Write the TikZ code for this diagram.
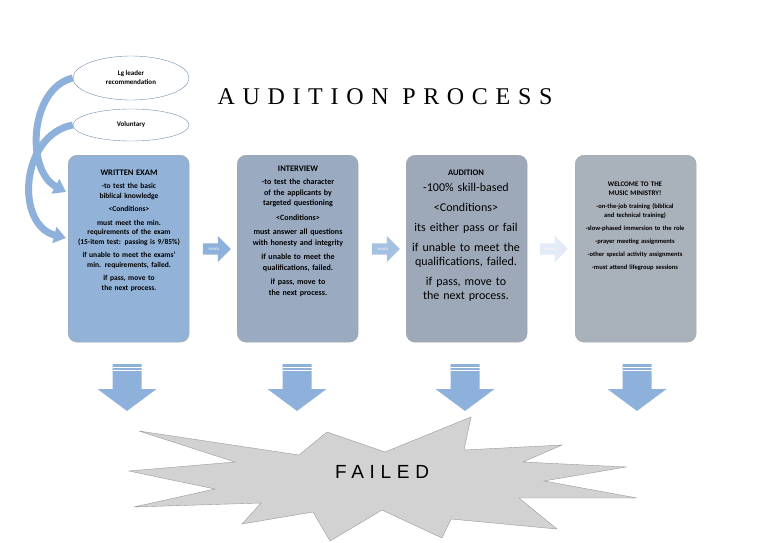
\documentclass[tikz,border=0pt]{standalone}
\usepackage{fontspec}
\setmainfont{Carlito}
\newfontfamily\titlefont[LetterSpace=32]{Liberation Serif}
\newfontfamily\failfont[LetterSpace=30]{Liberation Sans}
\usetikzlibrary{shapes.geometric,shapes.arrows,arrows.meta}
\definecolor{bA}{HTML}{93B2D7}
\definecolor{bB}{HTML}{99AAC1}
\definecolor{bC}{HTML}{9DA9B8}
\definecolor{bD}{HTML}{A9B1BA}
\definecolor{arr}{HTML}{8EB1DB}
\hyphenpenalty=10000
\exhyphenpenalty=10000
\begin{document}
\begin{tikzpicture}[x=1pt,y=-1pt,
 box/.style={draw=gray!70,rounded corners=9pt,minimum width=121pt,minimum height=187pt,anchor=north west},
 txt/.style={align=center,text width=108pt,font=\bfseries\fontsize{7.5}{9.5}\selectfont,anchor=north},
 pass/.style={single arrow,fill=arr,minimum height=28pt,minimum width=26pt,single arrow head extend=3pt,inner sep=1pt,font=\fontsize{3.5}{4}\selectfont,text=white},
 ell/.style={ellipse,draw=arr!80!black,minimum width=116pt,font=\bfseries\fontsize{7}{9}\selectfont,align=center},
 curve/.style={draw=arr,line width=7pt,-{Triangle[width=16pt,length=12pt]}}]
\useasboundingbox (0,0) rectangle (768,543);
\fill[white] (0,0) rectangle (768,543);
\node[font=\titlefont\fontsize{24}{27}\selectfont] (title) at (385,97) {AUDITION PROCESS};
\node[ell,minimum height=44pt] (lg) at (131,78) {Lg leader\\recommendation};
\node[ell,minimum height=32pt] (vol) at (131,125) {Voluntary};
\node[box,fill=bA] (b1) at (68,155) {};
\node[box,fill=bB] (b2) at (237,155) {};
\node[box,fill=bC] (b3) at (406,155) {};
\node[box,fill=bD] (b4) at (575,155) {};
\coordinate (e1) at (66,192);
\coordinate (e2) at (66,238);
\draw[curve] (lg.west) .. controls (30,88) and (25,170) .. (e1);
\draw[curve] (vol.west) .. controls (20,135) and (15,225) .. (e2);
\node[txt] (t1) at (129,166) {{\fontsize{8.5}{10}\selectfont WRITTEN EXAM}\\[4pt]-to test the basic biblical knowledge\\[4pt]<Conditions>\\[4pt]must meet the min. requirements of the exam (15-item test: passing is 9/85\%)\\[4pt]if unable to meet the exams' min. requirements, failed.\\[4pt]if pass, move to the next process.};
\node[txt,text width=114pt,font=\bfseries\fontsize{8}{10.5}\selectfont] (t2) at (298,162) {{\fontsize{8.5}{10}\selectfont INTERVIEW}\\[3pt]-to test the character of the applicants by targeted questioning\\[4pt]<Conditions>\\[4pt]must answer all questions with honesty and integrity\\[4pt]if unable to meet the qualifications, failed.\\[4pt]if pass, move to the next process.};
\node[txt,text width=116pt,font=\fontsize{12}{14}\selectfont] (t3) at (466,166) {{\bfseries\fontsize{8.5}{10}\selectfont AUDITION}\\[2pt]-100\% skill-based\\[6pt]<Conditions>\\[6pt]its either pass or fail\\[6pt]if unable to meet the qualifications, failed.\\[6pt]if pass, move to the next process.};
\node[txt,text width=108pt,font=\bfseries\fontsize{6.5}{9}\selectfont] (t4) at (635,178) {{\fontsize{7}{9}\selectfont WELCOME TO THE MUSIC MINISTRY!}\\[4pt]-on-the-job training (biblical and technical training)\\[4pt]-slow-phased immersion to the role\\[4pt]-prayer meeting assignments\\[4pt]-other special activity assignments\\[4pt]-must attend lifegroup sessions};
\node[pass] (p1) at (214,249) {PASSED};
\node[pass,fill=arr!80] (p2) at (383,249) {PASSED};
\node[pass,fill=arr!25] (p3) at (551,249) {PASSED};
\foreach \x in {127,297,465,637}{
  \fill[arr] (\x-14.5,364) -- (\x+14.5,364) -- (\x+14.5,389) -- (\x+29.5,389) -- (\x,411) -- (\x-29.5,389) -- (\x-14.5,389) -- cycle;
  \draw[white,line width=0.7pt] (\x-14.5,367) -- (\x+14.5,367) (\x-14.5,370.5) -- (\x+14.5,370.5);
}
\filldraw[draw=gray!80,fill=gray!35] (139,431) -- (299,455) -- (327,432) -- (385,452) -- (471,417) -- (464,450) -- (562,445) -- (523,462) -- (626,467) -- (544,481) -- (637,498) -- (519,498) -- (557,529) -- (451,519) -- (442,538) -- (382,510) -- (330,541) -- (313,512) -- (242,524) -- (261,503) -- (134,507) -- (215,489) -- (129,471) -- (235,462) -- cycle;
\node[font=\failfont\fontsize{19}{22}\selectfont] (ft) at (382,472) {FAILED};
\end{tikzpicture}
\end{document}
